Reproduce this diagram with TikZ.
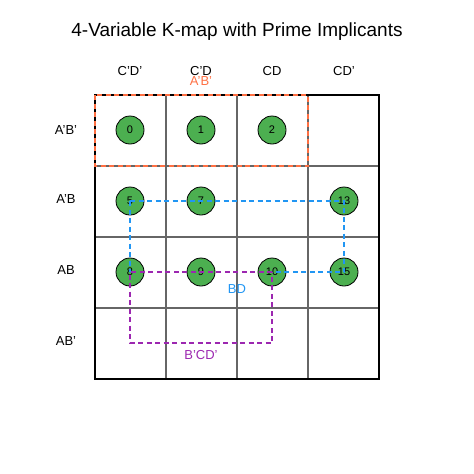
\documentclass[tikz,border=0pt]{standalone}
\usepackage{fontspec}
\setmainfont{Liberation Sans}
\definecolor{mintgreen}{RGB}{76,175,80}
\definecolor{imporange}{RGB}{255,112,67}
\definecolor{impblue}{RGB}{33,150,243}
\definecolor{imppurple}{RGB}{156,39,176}
\begin{document}
\begin{tikzpicture}[x=1pt,y=-1pt,
    term/.style={circle,draw=black,line width=0.8pt,fill=mintgreen,minimum size=28pt,inner sep=0pt,font=\fontsize{11}{12}\selectfont},
    lbl/.style={font=\fontsize{13}{15}\selectfont},
    grp/.style={line width=2.2pt,dash pattern=on 5pt off 3.5pt}]
    \useasboundingbox (0,0) rectangle (474,474);
    \node[font=\fontsize{19}{22}\selectfont] (title) at (237,32) {4-Variable K-map with Prime Implicants};

    \draw[gray!80!black,line width=1.2pt](166,95)--(166,379) (237,95)--(237,379) (308,95)--(308,379);
    \draw[gray!80!black,line width=1.2pt](95,166)--(379,166) (95,237)--(379,237) (95,308)--(379,308);
    \draw[line width=1.8pt](95,95)rectangle(379,379);

    \node[lbl] (col0) at (130,71){C'D'};
    \node[lbl] (col1) at (201,71){C'D};
    \node[lbl] (col2) at (272,71){CD};
    \node[lbl] (col3) at (344,71){CD'};
    \node[lbl] (row0) at (66,130){A'B'};
    \node[lbl] (row1) at (66,199){A'B};
    \node[lbl] (row2) at (66,270){AB};
    \node[lbl] (row3) at (66,341){AB'};

    \node[term] (m0) at (130,130){0};
    \node[term] (m1) at (201,130){1};
    \node[term] (m2) at (272,130){2};
    \node[term] (m5) at (130,201){5};
    \node[term] (m7) at (201,201){7};
    \node[term] (m13) at (344,201){13};
    \node[term] (m8) at (130,272){8};
    \node[term] (m9) at (201,272){9};
    \node[term] (m10) at (272,272){10};
    \node[term] (m15) at (344,272){15};

    \coordinate (p1) at (130,343);
    \coordinate (p2) at (272,343);

    \draw[grp,imporange](95,95)rectangle(308,166);
    \node[lbl,imporange] (lab1) at (201,81){A'B'};

    \draw[grp,impblue](m5.center)--(m13.center)--(m15.center)--(m10.center);
    \draw[grp,impblue](m5.center)--(m8.center);
    \node[lbl,impblue] (lab2) at (237,289){BD};

    \draw[grp,imppurple](m10.center)--(m8.center)--(p1)--(p2)--(m10.center);
    \node[lbl,imppurple] (lab3) at (201,355){B'CD'};
\end{tikzpicture}
\end{document}
